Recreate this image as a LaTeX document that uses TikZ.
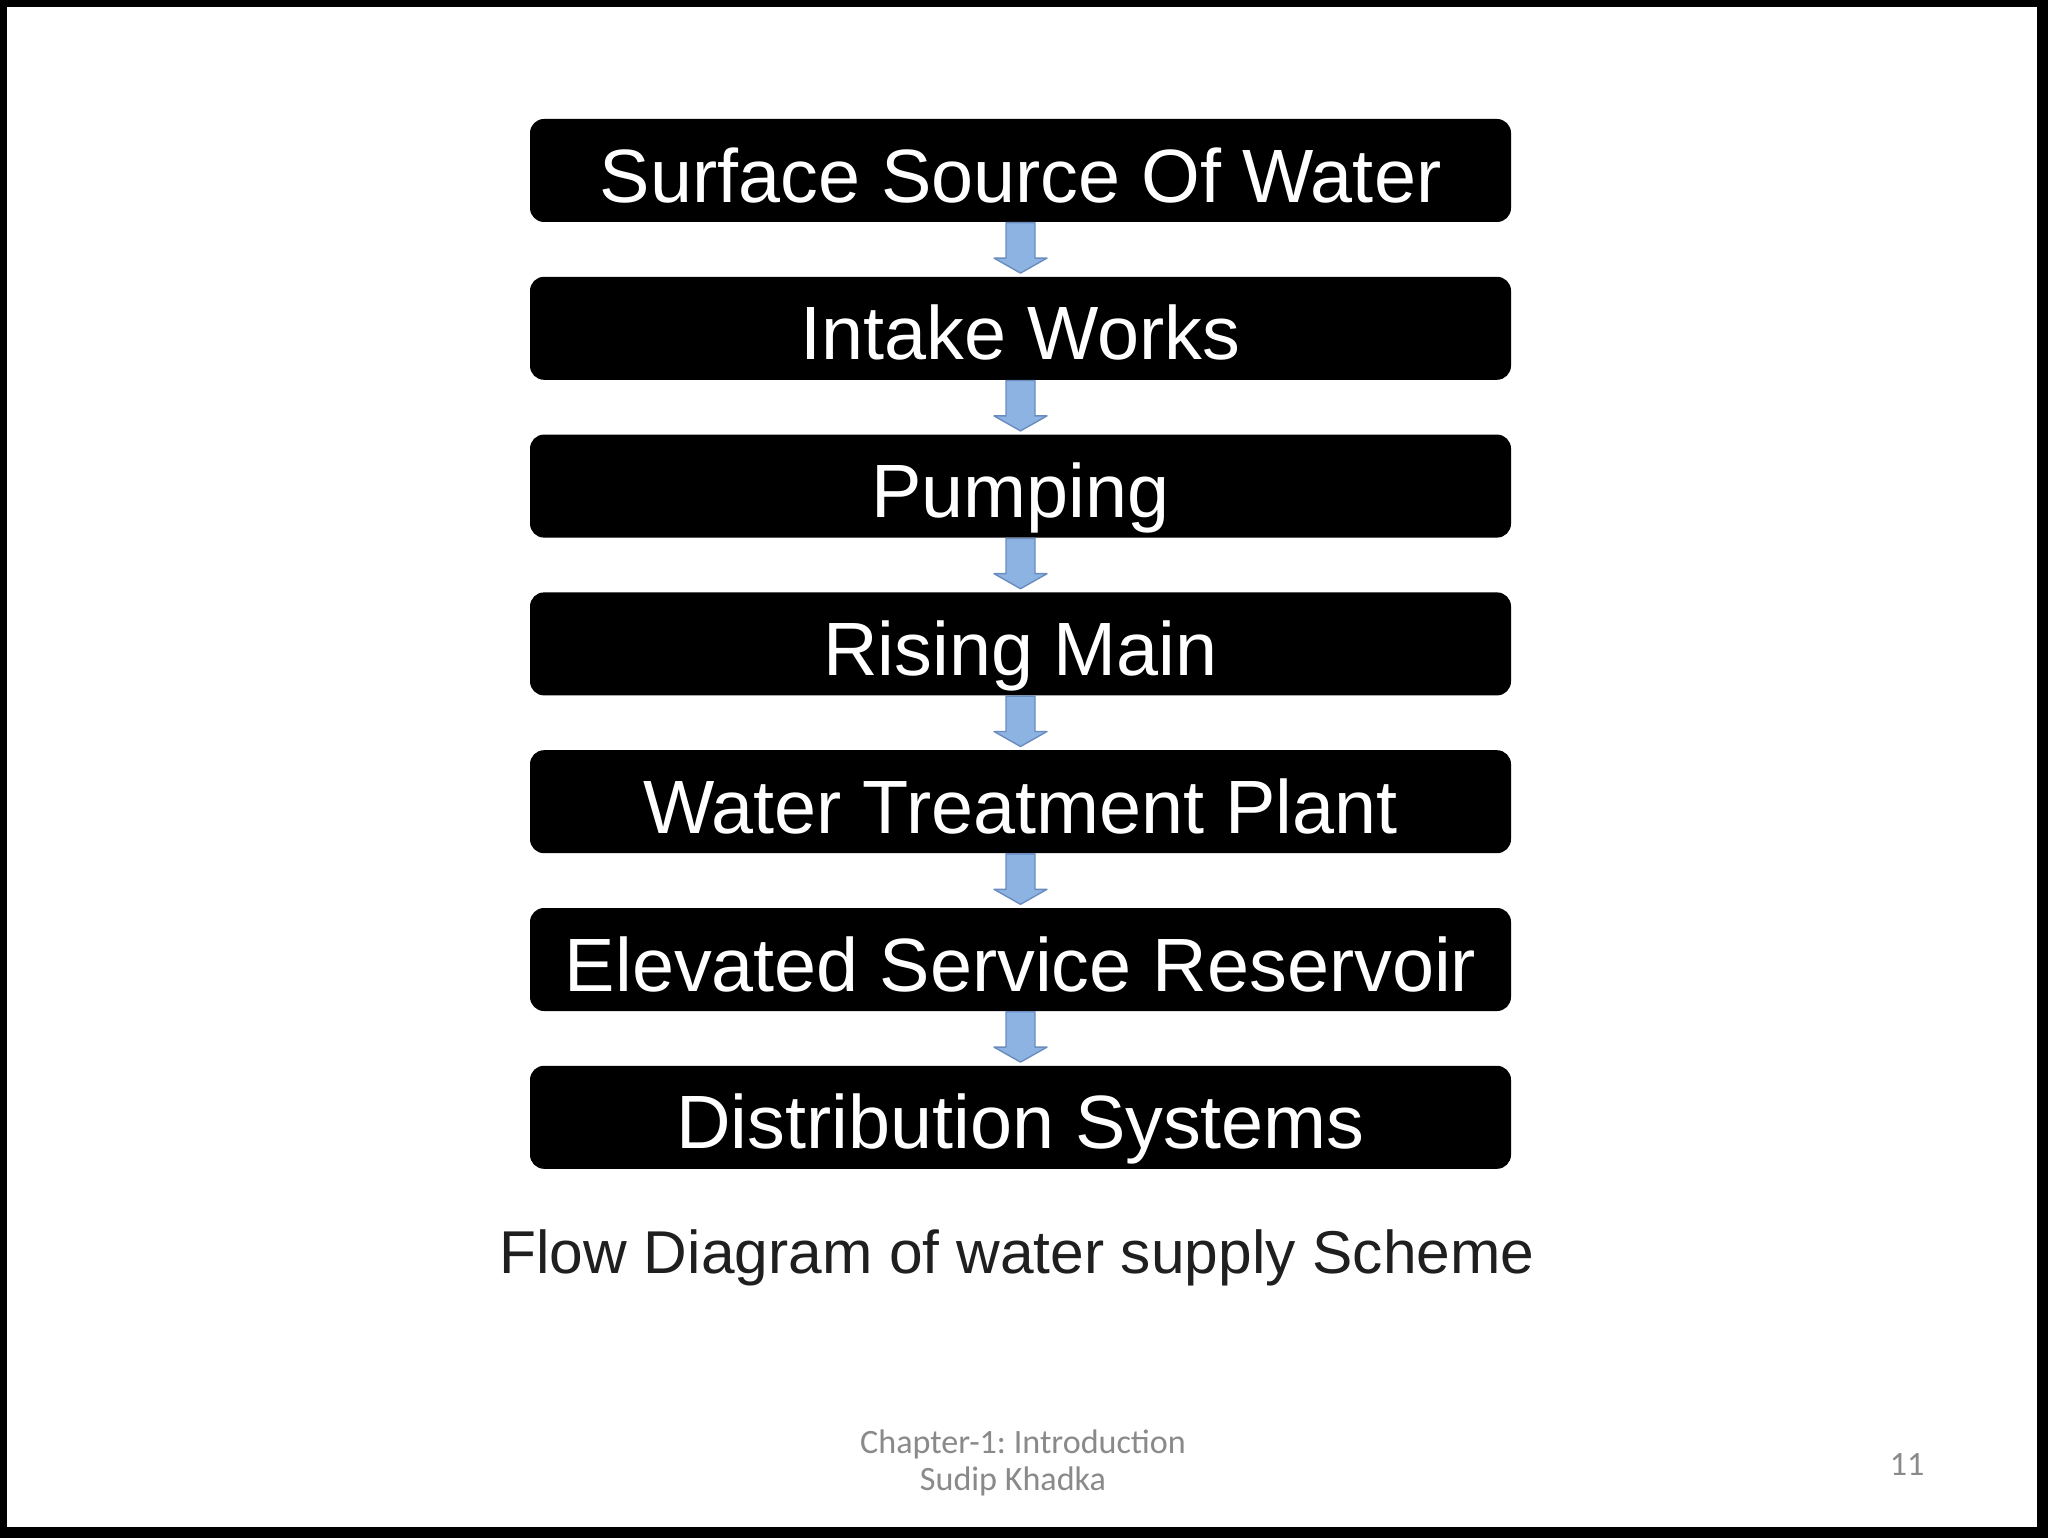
\documentclass[tikz,border=0pt]{standalone}
\usepackage{fontspec}
\setmainfont{Liberation Sans}
\newfontfamily\footfont{Carlito}
\usetikzlibrary{calc}
\definecolor{arrowblue}{HTML}{8DB3E2}
\definecolor{arrowline}{HTML}{6A8CBF}
\definecolor{footgray}{HTML}{8A8A8A}
\begin{document}
\begin{tikzpicture}[x=0.1mm,y=-0.1mm,
		stepbox/.style={fill=black,rounded corners=1.4mm,minimum width=98.1mm,minimum height=10.3mm,inner sep=0pt,
			text=white,text height=18pt,text depth=0pt,font=\fontsize{21.5pt}{24pt}\selectfont},
		flowarrow/.style={fill=arrowblue,draw=arrowline,line width=0.4pt,line join=round},
		foottext/.style={anchor=base,text=footgray,font=\footfont\fontsize{9.7pt}{11pt}\selectfont\frenchspacing}]
			\useasboundingbox (0,0) rectangle (2048,1538);
			\fill[black] (0,0) rectangle (2048,1538);
			\fill[white] (7,7) rectangle (2037,1527);
			% boxes
			\node[stepbox] (src) at (1020.5,170.5) {Surface Source Of Water};
			\node[stepbox] (intake) at (1020.5,328.3) {Intake Works};
			\node[stepbox] (pump) at (1020.5,486.1) {Pumping};
			\node[stepbox] (rising) at (1020.5,643.9) {Rising Main};
			\node[stepbox] (wtp) at (1020.5,801.7) {Water Treatment Plant};
			\node[stepbox] (esr) at (1020.5,959.5) {Elevated Service Reservoir};
			\node[stepbox] (dist) at (1020.5,1117.3) {Distribution Systems};
			% arrows
			\draw[flowarrow] ($(src.south)+(-14.5,0)$) -- ($(intake.north)+(-14.5,-18)$) -- ($(intake.north)+(-26.5,-18)$) -- ($(intake.north)+(0,-3)$)
				-- ($(intake.north)+(26.5,-18)$) -- ($(intake.north)+(14.5,-18)$) -- ($(src.south)+(14.5,0)$) -- cycle;
			\draw[flowarrow] ($(intake.south)+(-14.5,0)$) -- ($(pump.north)+(-14.5,-18)$) -- ($(pump.north)+(-26.5,-18)$) -- ($(pump.north)+(0,-3)$)
				-- ($(pump.north)+(26.5,-18)$) -- ($(pump.north)+(14.5,-18)$) -- ($(intake.south)+(14.5,0)$) -- cycle;
			\draw[flowarrow] ($(pump.south)+(-14.5,0)$) -- ($(rising.north)+(-14.5,-18)$) -- ($(rising.north)+(-26.5,-18)$) -- ($(rising.north)+(0,-3)$)
				-- ($(rising.north)+(26.5,-18)$) -- ($(rising.north)+(14.5,-18)$) -- ($(pump.south)+(14.5,0)$) -- cycle;
			\draw[flowarrow] ($(rising.south)+(-14.5,0)$) -- ($(wtp.north)+(-14.5,-18)$) -- ($(wtp.north)+(-26.5,-18)$) -- ($(wtp.north)+(0,-3)$)
				-- ($(wtp.north)+(26.5,-18)$) -- ($(wtp.north)+(14.5,-18)$) -- ($(rising.south)+(14.5,0)$) -- cycle;
			\draw[flowarrow] ($(wtp.south)+(-14.5,0)$) -- ($(esr.north)+(-14.5,-18)$) -- ($(esr.north)+(-26.5,-18)$) -- ($(esr.north)+(0,-3)$)
				-- ($(esr.north)+(26.5,-18)$) -- ($(esr.north)+(14.5,-18)$) -- ($(wtp.south)+(14.5,0)$) -- cycle;
			\draw[flowarrow] ($(esr.south)+(-14.5,0)$) -- ($(dist.north)+(-14.5,-18)$) -- ($(dist.north)+(-26.5,-18)$) -- ($(dist.north)+(0,-3)$)
				-- ($(dist.north)+(26.5,-18)$) -- ($(dist.north)+(14.5,-18)$) -- ($(esr.south)+(14.5,0)$) -- cycle;
			% caption and footer
			\node[anchor=base,text=black!88,font=\fontsize{17.2pt}{20pt}\selectfont] (caption) at (1017,1273) {Flow Diagram of water supply Scheme};
			\node[foottext] (chapter) at (1023,1453) {Chapter-1: Introduction};
			\node[foottext] (author) at (1013,1490) {Sudip Khadka};
			\node[foottext] (pageno) at (1907,1475) {11};
		\end{tikzpicture}
\end{document}
